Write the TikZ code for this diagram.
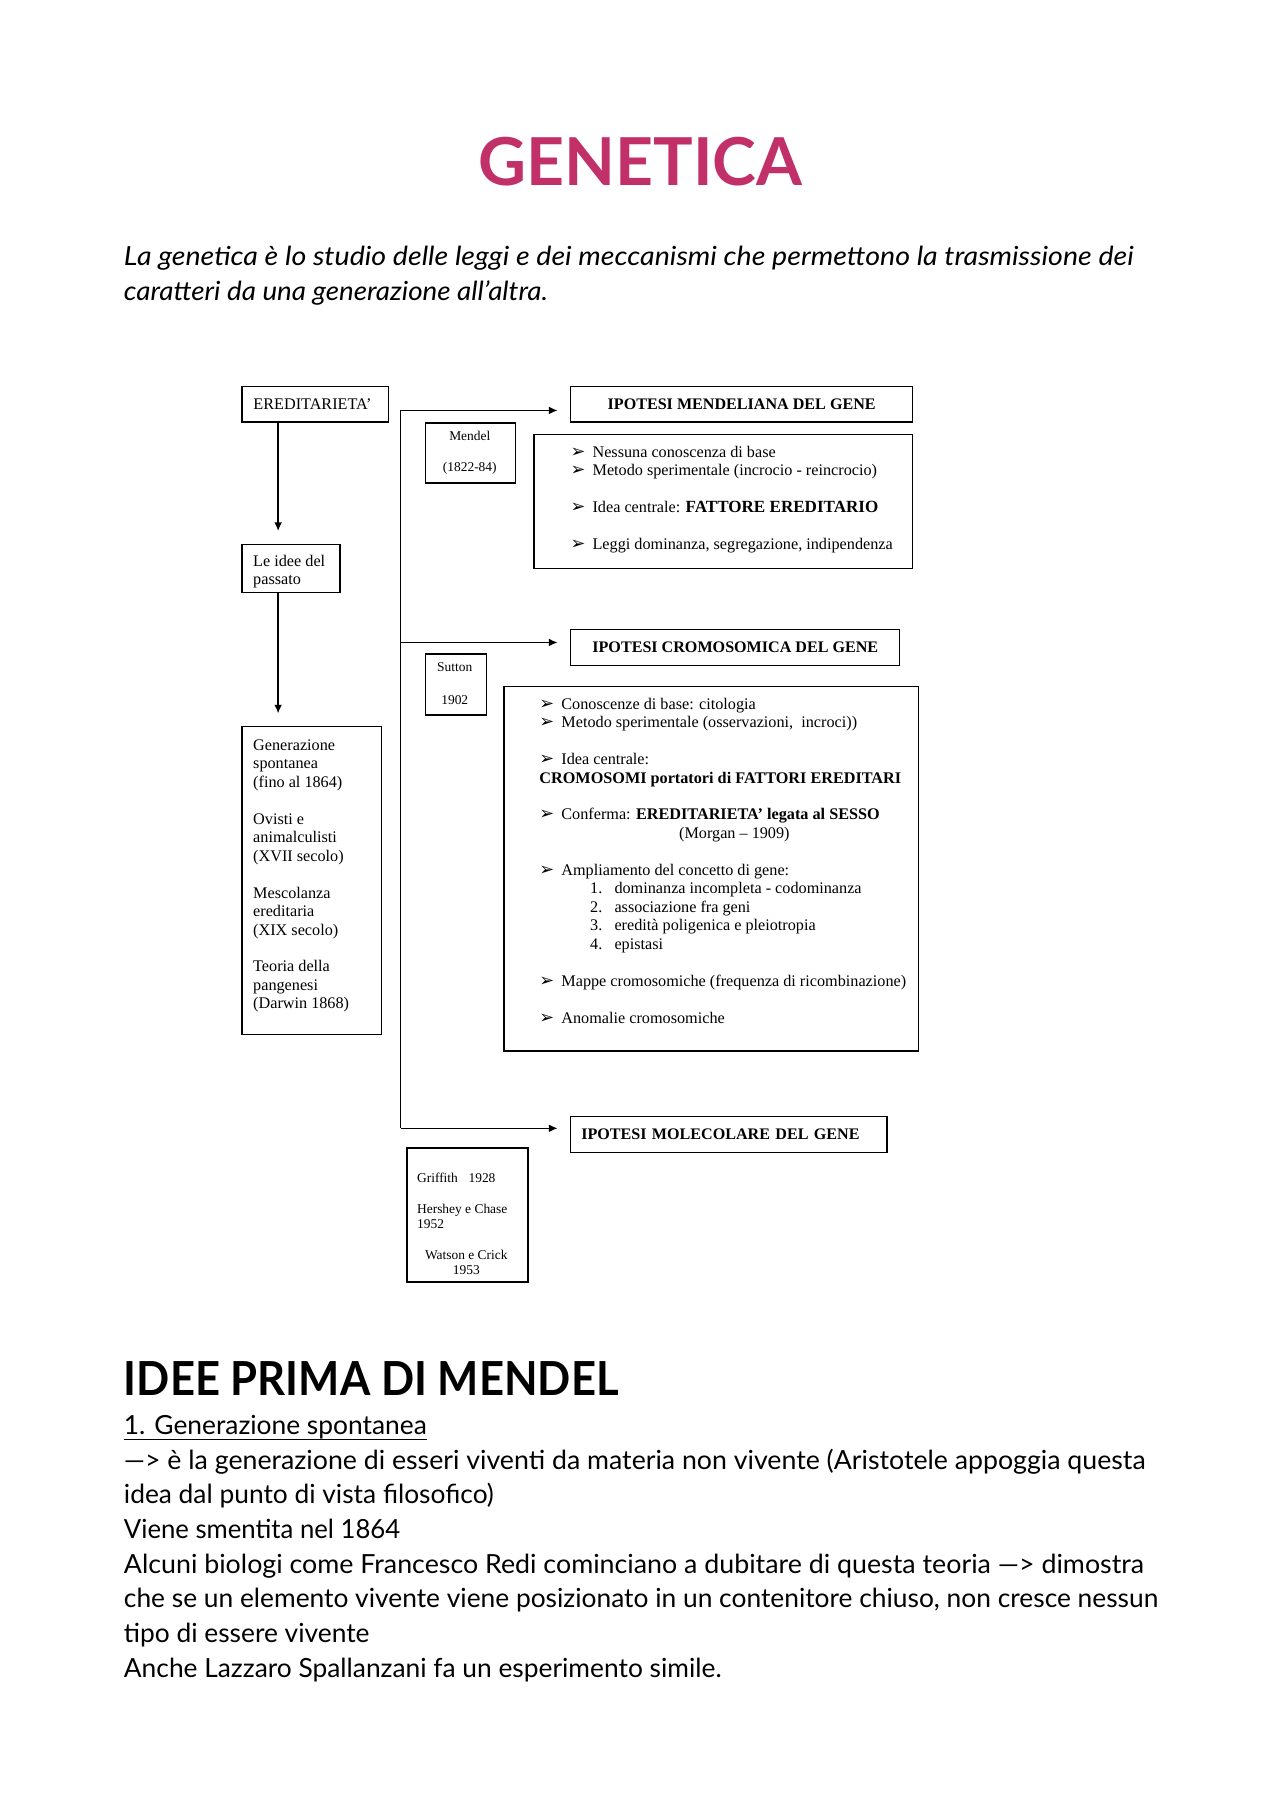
\documentclass[tikz,border=0pt]{standalone}
\usepackage{fontspec}
\setmainfont{Lato}
\newfontfamily\timesf{Liberation Serif}
\newfontfamily\dejavu{DejaVu Sans}
\usetikzlibrary{positioning}
\usetikzlibrary{arrows.meta}

\definecolor{titlepink}{RGB}{194,48,105}
\newcommand\dfont{\timesf\fontsize{7.6}{8.66}\selectfont}
\newcommand\sfont{\timesf\fontsize{6.3}{7}\selectfont}
\newcommand\hfont{\timesf\bfseries\fontsize{7.55}{8.66}\selectfont}
\newcommand\bodyfont{\fontsize{12.35}{16.2}\selectfont}
\newcommand\bul{\makebox[10.3pt][l]{\dejavu\fontsize{8.3}{7}\selectfont ➢}}
\newcommand\num[1]{\hspace*{23.8pt}\makebox[11.4pt][l]{#1.}}

\begin{document}
\begin{tikzpicture}[x=0.5412pt, y=-0.5412pt,
    bx/.style 2 args={draw, line width=0.6pt, anchor=north west, inner sep=0pt,
      minimum width={#1*0.5412pt}, minimum height={#2*0.5412pt}},
    arr/.style={-{Latex[length=4pt, width=3.6pt]}, line width=0.6pt},
    conn/.style={line width=0.6pt},
    txt/.style={anchor=north west, inner sep=0pt, align=left, font=\dfont},
    body/.style={anchor=base west, inner sep=0pt, font=\bodyfont}]

  % Page
  \fill[white] (0,0) rectangle (1109,1569);
  \useasboundingbox (0,0) rectangle (1109,1569);

  % Title and introduction
  \node[anchor=base, inner sep=0pt, text=titlepink,
    font=\bfseries\fontsize{31}{36}\selectfont] (title) at (555,161) {GENETICA};
  \node[body, font=\bodyfont\itshape] (introA) at (107,230)
    {\scalebox{1.085}[1]{La genetica è lo studio delle leggi e dei meccanismi che permettono la trasmissione dei}};
  \node[body, font=\bodyfont\itshape] (introB) at (107,260)
    {\scalebox{1.055}[1]{caratteri da una generazione all’altra.}};

  % Left column: the ideas of the past
  \node[bx={127}{31}, font=\dfont, align=left, text width=57.9pt] (ered) at (209,334) {EREDITARIETA’};
  \node[bx={85}{42}] (idee) at (209,471) {};
  \node[txt] (ideeT) at (219,479) {\strut Le idee del\\ passato};
  \node[bx={121}{267}] (gen) at (209,629) {};
  \node[txt] (genT) at (219,638.5) {\strut Generazione\\ spontanea\\ (fino al 1864)\\[8.66pt]
    Ovisti e\\ animalculisti\\ (XVII secolo)\\[8.66pt]
    Mescolanza\\ ereditaria\\ (XIX secolo)\\[8.66pt]
    Teoria della\\ pangenesi\\ (Darwin 1868)};

  \draw[arr, shorten >=5.95pt] ([xshift=17.3pt]ered.south west) -- ([xshift=17.3pt]idee.north west);
  \draw[arr, shorten >=5.95pt] ([xshift=17.3pt]idee.south west) -- ([xshift=17.3pt]gen.north west);

  % Mendelian hypothesis
  \node[bx={296}{31}, font=\hfont] (ment) at (494,334) {IPOTESI MENDELIANA DEL GENE};
  \node[bx={78}{52}] (mendb) at (368,366) {};
  \node[anchor=north, inner sep=0pt, align=center, font=\sfont] (mendT) at (407,372)
    {\strut Mendel\\[7.6pt] (1822-84)};
  \node[bx={328}{116}] (mendc) at (462,376) {};
  \node[txt] (mendL) at (494,384.8) {\strut\bul Nessuna conoscenza di base\\
    \bul Metodo sperimentale (incrocio - reincrocio)\\[8.66pt]
    \bul Idea centrale: {\bfseries\fontsize{8}{8.66}\selectfont FATTORE EREDITARIO}\\[8.66pt]
    \bul Leggi dominanza, segregazione, indipendenza};

  % Chromosomal hypothesis
  \node[bx={285}{31}, font=\hfont] (crom) at (494,545) {IPOTESI CROMOSOMICA DEL GENE};
  \node[bx={53}{53}] (suttb) at (368,566) {};
  \node[anchor=north, inner sep=0pt, align=center, font=\sfont] (suttT) at (394,572.5)
    {\strut Sutton\\[8.2pt] 1902};
  \node[bx={359}{316}] (cromc) at (436,594) {};
  \node[txt] (cromL) at (467,602.8) {\strut\bul Conoscenze di base: citologia\\
    \bul Metodo sperimentale (osservazioni,\ \ incroci))\\[8.66pt]
    \bul Idea centrale:\\
    \textbf{CROMOSOMI portatori di FATTORI EREDITARI}\\[8.66pt]
    \bul Conferma: \textbf{EREDITARIETA’ legata al SESSO}\\
    \hspace*{65.5pt}(Morgan – 1909)\\[8.66pt]
    \bul Ampliamento del concetto di gene:\\
    \num{1}dominanza incompleta - codominanza\\
    \num{2}associazione fra geni\\
    \num{3}eredità poligenica e pleiotropia\\
    \num{4}epistasi\\[8.66pt]
    \bul Mappe cromosomiche (frequenza di ricombinazione)\\[8.66pt]
    \bul Anomalie cromosomiche};

  % Molecular hypothesis
  \node[bx={274}{31}, font=\hfont, align=left, text width=138.5pt] (mol) at (494,967) {IPOTESI MOLECOLARE DEL GENE};
  \node[bx={105}{116}] (grifb) at (352,994) {};
  \node[anchor=north west, inner sep=0pt, align=left, font=\sfont] (grifA) at (361,1015)
    {\strut Griffith\hspace{5pt}1928\\[7.6pt] Hershey e Chase\\ 1952};
  \node[anchor=north, inner sep=0pt, align=center, font=\sfont] (grifB) at (404,1082)
    {\strut Watson e Crick\\ 1953};

  % Trunk with the three branches
  \coordinate (tx) at (347,0);
  \coordinate (brA) at ([yshift=-3pt]ment.west);
  \coordinate (brB) at ([yshift=2.4pt]crom.west);
  \coordinate (brC) at ([yshift=3pt]mol.west);
  \draw[conn] (brA -| tx) -- (brC -| tx);
  \draw[arr, shorten >=5.95pt] (brA -| tx) -- (brA);
  \draw[arr, shorten >=5.95pt] (brB -| tx) -- (brB);
  \draw[arr, shorten >=5.95pt] (brC -| tx) -- (brC);

  % Ideas before Mendel
  \node[anchor=base west, inner sep=0pt, font=\bfseries\fontsize{22}{26}\selectfont] (idee2) at (107,1209)
    {\scalebox{0.93}[1]{IDEE PRIMA DI MENDEL}};
  \node[body] (gs) at (107,1243) {1. Generazione spontanea};
  \draw[line width=0.5pt] ([yshift=-2.2pt]gs.base west) -- ([yshift=-2.2pt]gs.base east);
  \node[body] (lA) at (107,1273)
    {\scalebox{1.014}[1]{—> è la generazione di esseri viventi da materia non vivente (Aristotele appoggia questa}};
  \node[body] (lB) at (107,1303) {idea dal punto di vista filosofico)};
  \node[body] (lC) at (107,1333) {\scalebox{0.976}[1]{Viene smentita nel 1864}};
  \node[body] (lD) at (107,1363)
    {\scalebox{1.017}[1]{Alcuni biologi come Francesco Redi cominciano a dubitare di questa teoria —> dimostra}};
  \node[body] (lE) at (107,1393)
    {che se un elemento vivente viene posizionato in un contenitore chiuso, non cresce nessun};
  \node[body] (lF) at (107,1423) {tipo di essere vivente};
  \node[body] (lG) at (107,1453) {Anche Lazzaro Spallanzani fa un esperimento simile.};

\end{tikzpicture}
\end{document}
